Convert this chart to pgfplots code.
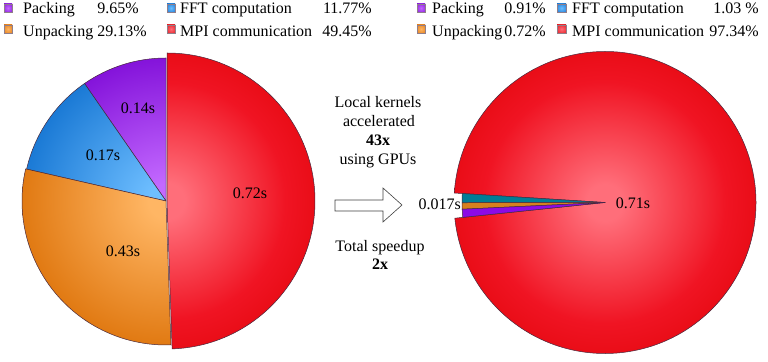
\documentclass[border=0pt]{standalone}
\usepackage{pgfplots}
\pgfplotsset{compat=1.18}
\usepackage{fontspec}
\setmainfont{Liberation Serif}
\newfontfamily\tnr{Liberation Serif}

\definecolor{redout}{RGB}{222,0,2}
\definecolor{redmid}{RGB}{240,20,35}
\definecolor{redin}{RGB}{255,110,122}
\definecolor{purout}{RGB}{118,0,210}
\definecolor{purin}{RGB}{195,105,255}
\definecolor{bluout}{RGB}{0,100,200}
\definecolor{bluin}{RGB}{110,190,255}
\definecolor{orgout}{RGB}{218,108,0}
\definecolor{orgin}{RGB}{255,182,100}
\definecolor{tealflat}{RGB}{0,125,150}
\definecolor{orgflat}{RGB}{215,128,30}
\definecolor{purflat}{RGB}{140,10,230}
\definecolor{edgecol}{RGB}{70,40,60}

\pgfdeclareradialshading{shRed}{\pgfpointorigin}{color(0bp)=(redin); color(3bp)=(redin); color(20bp)=(redmid); color(34bp)=(redout); color(50bp)=(redout)}
\pgfdeclareradialshading{shPur}{\pgfpointorigin}{color(0bp)=(purin); color(3bp)=(purin); color(30bp)=(purout); color(50bp)=(purout)}
\pgfdeclareradialshading{shBlu}{\pgfpointorigin}{color(0bp)=(bluin); color(3bp)=(bluin); color(32bp)=(bluout); color(50bp)=(bluout)}
\pgfdeclareradialshading{shOrg}{\pgfpointorigin}{color(0bp)=(orgin); color(3bp)=(orgin); color(30bp)=(orgout); color(50bp)=(orgout)}
\pgfdeclareradialshading{sqPur}{\pgfpointorigin}{color(0bp)=(purin); color(50bp)=(purout)}
\pgfdeclareradialshading{sqBlu}{\pgfpointorigin}{color(0bp)=(bluin); color(50bp)=(bluout)}
\pgfdeclareradialshading{sqOrg}{\pgfpointorigin}{color(0bp)=(orgin); color(50bp)=(orgout)}
\pgfdeclareradialshading{sqRed}{\pgfpointorigin}{color(0bp)=(redin); color(50bp)=(redout)}

% ---- data: shares in percent ----
% left pie (before): Packing, FFT, Unpacking, MPI
\def\LPack{9.65}\def\LFFT{11.77}\def\LUnp{29.13}\def\LMPI{49.45}
% right pie (after): FFT, Unpacking, Packing, MPI
\def\RPack{0.91}\def\RFFT{1.03}\def\RUnp{0.72}\def\RMPI{97.34}

\pgfmathsetmacro\La{90}
\pgfmathsetmacro\Lb{\La+3.6*\LPack}
\pgfmathsetmacro\Lc{\Lb+3.6*\LFFT}
\pgfmathsetmacro\Ld{\Lc+3.6*\LUnp}
\pgfmathsetmacro\Le{\Ld+3.6*\LMPI}

\pgfmathsetmacro\Ra{176.4}
\pgfmathsetmacro\Rb{\Ra+3.6*\RFFT}
\pgfmathsetmacro\Rc{\Rb+3.6*\RUnp}
\pgfmathsetmacro\Rd{\Rc+3.6*\RPack}
\pgfmathsetmacro\Re{\Rd+3.6*\RMPI}

% cx cy r a1 a2 shading
\newcommand{\pieslice}[6]{%
  \begin{scope}
    \clip (axis cs:#1,#2) -- ++(#4:#3bp) arc[start angle=#4, end angle=#5, radius=#3bp] -- cycle;
    \shade[shading=#6] (axis cs:#1,#2) circle[radius=#3bp];
  \end{scope}
  \draw[edgecol, line width=0.5pt, line join=round] (axis cs:#1,#2) -- ++(#4:#3bp) arc[start angle=#4, end angle=#5, radius=#3bp] -- cycle;
}
% cx cy r a1 a2 color
\newcommand{\flatslice}[6]{%
  \fill[#6, draw=edgecol, line width=0.5pt, line join=round] (axis cs:#1,#2) -- ++(#4:#3bp) arc[start angle=#4, end angle=#5, radius=#3bp] -- cycle;
}
\newcommand{\legsq}[5]{% x0 y0 x1 y1 shading
  \shade[shading=#5] (axis cs:#1,#2) rectangle (axis cs:#3,#4);
  \draw[edgecol!60, line width=0.3pt] (axis cs:#1,#2) rectangle (axis cs:#3,#4);
}

\begin{document}
\begin{tikzpicture}[every node/.style={font=\tnr\fontsize{16bp}{19bp}\selectfont, inner sep=0pt}]
\begin{axis}[
  at={(0,0)}, anchor=origin,
  scale only axis, width=768bp, height=360bp,
  xmin=0, xmax=768, ymin=0, ymax=360,
  hide axis, clip=false,
]
\path (axis cs:0,0) rectangle (axis cs:768,360);
\pgfplotsextra{
  % left pie
  \pieslice{166}{159}{143}{\La}{\Lb}{shPur}
  \pieslice{166}{159}{143}{\Lb}{\Lc}{shBlu}
  \pieslice{166}{159}{144}{\Lc}{\Ld}{shOrg}
  \pieslice{167}{159}{148}{\Ld}{\Le}{shRed}
  % right pie
  \pieslice{605}{157.5}{151}{\Rd}{\Re}{shRed}
  \flatslice{605}{157.5}{143}{\Ra}{\Rb}{tealflat}
  \flatslice{605}{157.5}{143}{\Rb}{\Rc}{orgflat}
  \flatslice{605}{157.5}{143}{\Rc}{\Rd}{purflat}
  % legend squares
  \legsq{4}{348}{12}{356}{sqPur}
  \legsq{4}{327}{12}{335}{sqOrg}
  \legsq{167}{348}{175}{356}{sqBlu}
  \legsq{167}{327}{175}{335}{sqRed}
  \legsq{417}{348}{425}{356}{sqPur}
  \legsq{417}{327}{425}{335}{sqOrg}
  \legsq{557}{348}{566}{356}{sqBlu}
  \legsq{557}{327}{566}{335}{sqRed}
  % arrow
  \draw[black!75, fill=white, line width=0.6pt, line join=miter]
    (axis cs:335,149) -- (axis cs:383,149) -- (axis cs:383,138) -- (axis cs:402,155)
    -- (axis cs:383,172) -- (axis cs:383,160) -- (axis cs:335,160) -- cycle;
}
% legend texts
\node[anchor=base west] at (axis cs:23,346) {Packing};
\node[anchor=base east] at (axis cs:139,346) {9.65\%};
\node[anchor=base west] at (axis cs:23,323) {Unpacking 29.13\%};
\node[anchor=base west] at (axis cs:180,346) {FFT computation};
\node[anchor=base east] at (axis cs:372,346) {11.77\%};
\node[anchor=base west] at (axis cs:180,323) {MPI communication};
\node[anchor=base east] at (axis cs:372,323) {49.45\%};
\node[anchor=base west] at (axis cs:432,346) {Packing};
\node[anchor=base east] at (axis cs:546,346) {0.91\%};
\node[anchor=base west] at (axis cs:432,323) {Unpacking};
\node[anchor=base east] at (axis cs:546,323) {0.72\%};
\node[anchor=base west] at (axis cs:572,346) {FFT computation};
\node[anchor=base east] at (axis cs:759,346) {1.03 \%};
\node[anchor=base west] at (axis cs:572,323) {MPI communication};
\node[anchor=base east] at (axis cs:759,323) {97.34\%};
% slice labels
\node at (axis cs:138,252) {0.14s};
\node at (axis cs:103,205) {0.17s};
\node at (axis cs:250,167) {0.72s};
\node at (axis cs:123,109) {0.43s};
\node at (axis cs:633,157) {0.71s};
\node[anchor=base east] at (axis cs:461,150) {0.017s};
% middle annotation
\node[anchor=base] at (axis cs:378,252) {Local kernels};
\node[anchor=base] at (axis cs:379,233) {accelerated};
\node[anchor=base] at (axis cs:378,214) {\textbf{43x}};
\node[anchor=base] at (axis cs:378,195) {using GPUs};
\node[anchor=base] at (axis cs:380,108) {Total speedup};
\node[anchor=base] at (axis cs:380,90) {\textbf{2x}};
\end{axis}
\end{tikzpicture}
\end{document}
